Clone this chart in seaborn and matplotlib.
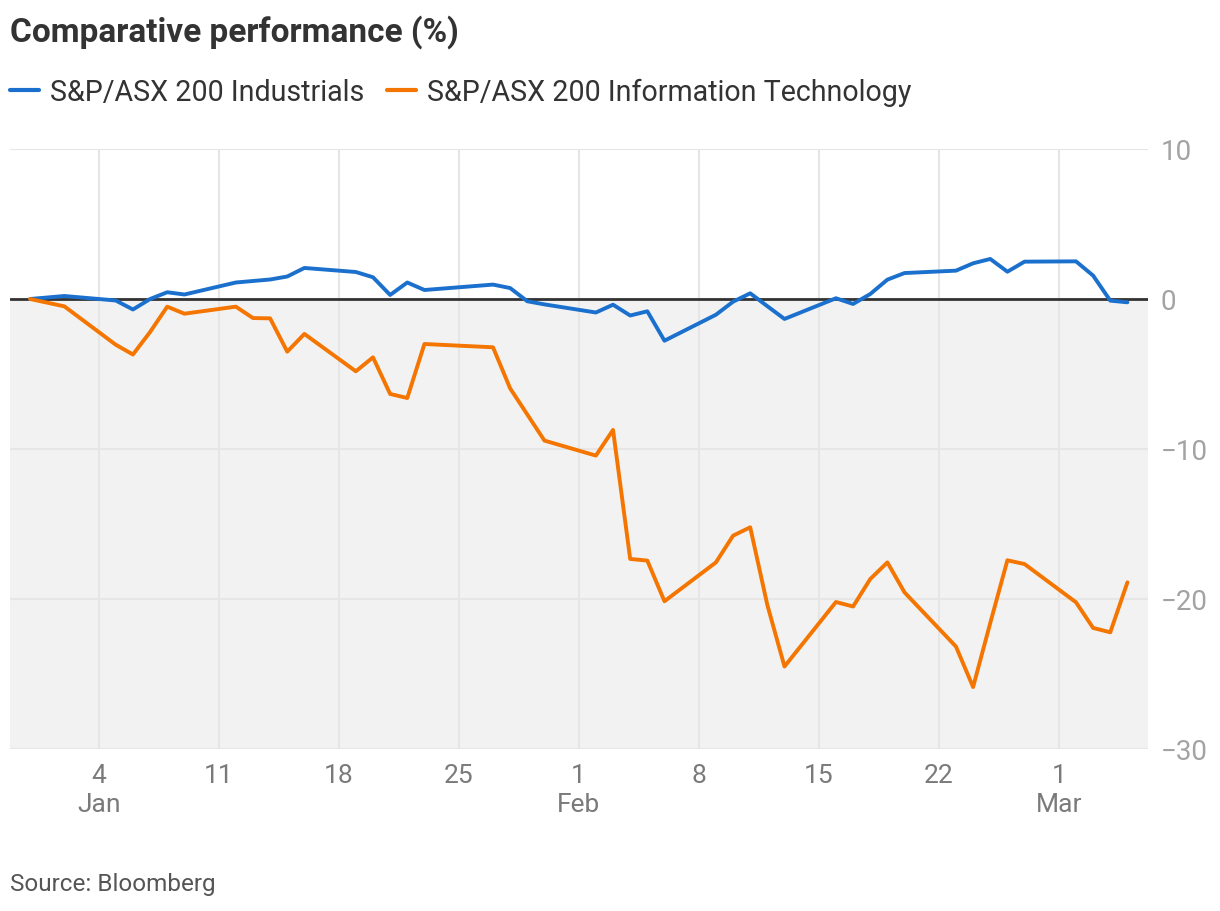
import pandas as pd
import seaborn as sns
import matplotlib.pyplot as plt

# Trading days on the chart (ASX closed on 1 Jan and 26 Jan)
dates = pd.DatetimeIndex(['2025-12-31']).append(
    pd.bdate_range('2026-01-02', '2026-03-05').drop(pd.Timestamp('2026-01-26')))

# Comparative performance (%)
industrials = [0, 0.2,
               -0.1, -0.7, 0.0, 0.45, 0.3,
               1.1, 1.2, 1.3, 1.5, 2.07,
               1.8, 1.45, 0.27, 1.1, 0.6,
               0.96, 0.73, -0.15, -0.36,
               -0.9, -0.38, -1.1, -0.82, -2.78,
               -1.05, -0.18, 0.38, -0.48, -1.33,
               0.05, -0.33, 0.33, 1.29, 1.73,
               1.89, 2.38, 2.67, 1.82, 2.49,
               2.51, 1.56, -0.11, -0.22]
info_tech = [0, -0.49,
             -3.05, -3.7, -2.2, -0.51, -0.98,
             -0.51, -1.27, -1.29, -3.51, -2.33,
             -4.82, -3.89, -6.33, -6.6, -3.0,
             -3.22, -5.96, -7.7, -9.44,
             -10.44, -8.73, -17.33, -17.44, -20.15,
             -17.56, -15.78, -15.22, -20.4, -24.5,
             -20.2, -20.5, -18.67, -17.56, -19.56,
             -23.17, -25.87, -21.6, -17.42, -17.67,
             -20.22, -21.93, -22.22, -18.89]

series_names = ['S&P/ASX 200 Industrials', 'S&P/ASX 200 Information Technology']
series_colors = ['#1a70cc', '#f47500']

tick_dates = ['2026-01-04', '2026-01-11', '2026-01-18', '2026-01-25', '2026-02-01',
              '2026-02-08', '2026-02-15', '2026-02-22', '2026-03-01']
tick_labels = ['4\nJan', '11', '18', '25', '1\nFeb', '8', '15', '22', '1\nMar']
y_ticks = [10, 0, -10, -20, -30]
y_labels = ['10', '0', '\u221210', '\u221220', '\u221230']

# long-form table for seaborn
df = pd.DataFrame({
    'date': list(dates) * 2,
    'value': industrials + info_tech,
    'series': [series_names[0]] * len(dates) + [series_names[1]] * len(dates),
})

sns.set_theme(style='white')
plt.rcParams['font.family'] = ['Roboto', 'DejaVu Sans']

fig = plt.figure(figsize=(12.2, 9.12), dpi=100)
ax = fig.add_axes([10 / 1220, 1 - 750 / 912, 1138 / 1220, 600 / 912])

# grey band below zero and light grid
ax.axhspan(-30, 0, color='#f2f2f2', zorder=0.2, lw=0)
ax.grid(True, color='#e6e6e6', lw=1.5)
ax.set_axisbelow(True)

sns.lineplot(data=df, x='date', y='value', hue='series', hue_order=series_names,
             palette=series_colors, lw=2.8, ax=ax, zorder=4)
ax.axhline(0, color='#333333', lw=2, zorder=3)

start = dates[0]
ax.set_xlim(start - pd.Timedelta(days=1.17), start + pd.Timedelta(days=65.2))
ax.set_ylim(-30, 10)

for s in ax.spines.values():
    s.set_visible(False)

ax.yaxis.tick_right()
ax.set_yticks(y_ticks, y_labels)
ax.set_xticks(pd.to_datetime(tick_dates), tick_labels)
ax.tick_params(axis='y', length=0, pad=9, labelsize=20, labelcolor='#a3a3a3')
ax.tick_params(axis='x', length=0, pad=10, labelsize=19, labelcolor='#7a7a7a')
for t in ax.get_xticklabels():
    t.set_linespacing(1.25)
ax.set_xlabel('')
ax.set_ylabel('')

sns.move_legend(ax, 'center left', bbox_to_anchor=(10 / 1220, 1 - 93 / 912),
                bbox_transform=fig.transFigure, ncol=2, frameon=False, title=None,
                fontsize=20.6, handlelength=1.0, handletextpad=0.4,
                columnspacing=0.8, borderpad=0, borderaxespad=0)
leg = ax.get_legend()
for t in leg.get_texts():
    t.set_color('#333333')
for h in leg.get_lines():
    h.set_linewidth(3)

fig.text(10 / 1220, 1 - 32 / 912, 'Comparative performance (%)', fontsize=24,
         fontweight='bold', color='#333333', va='center', ha='left')
fig.text(10 / 1220, 1 - 885 / 912, 'Source: Bloomberg', fontsize=17.5,
         color='#555555', va='center', ha='left')

fig.savefig('out.png', dpi=100)
